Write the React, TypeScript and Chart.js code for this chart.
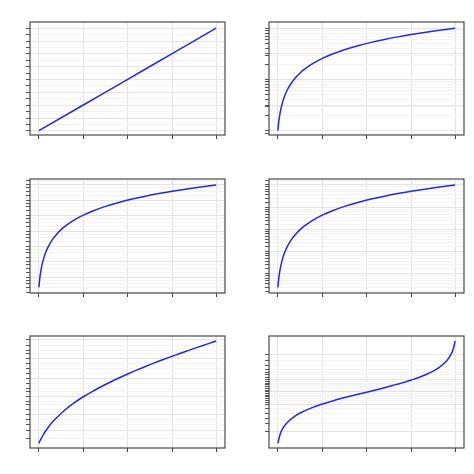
import React, { useEffect, useRef } from "react";
import { Chart, registerables } from "chart.js";
Chart.register(...registerables);

// ---- shared x axis ----
const xTickValues = [0, 100, 200, 300, 400];

// ---- panel 1 (linear) ----
const p1X = [0, 100, 200, 300, 399];
const p1Y = [0.002, 0.252, 0.502, 0.752, 1.0];
const p1Majors = [0, 0.125, 0.25, 0.375, 0.5, 0.625, 0.75, 0.875, 1.0];
const p1Minors = [0.0625, 0.1875, 0.3125, 0.4375, 0.5625, 0.6875, 0.8125, 0.9375];

// ---- panels 2-4 (logarithmic) ----
const logX = [0, 2, 5, 10, 15, 20, 30, 40, 50, 60, 80, 100, 120, 150, 180, 210, 240, 270, 300, 330, 360, 399];
const logY = [0.01, 0.015, 0.0224, 0.0348, 0.0472, 0.0596, 0.0844, 0.1092, 0.1341, 0.1589, 0.2085, 0.2581, 0.3077, 0.3822, 0.4566, 0.5311, 0.6055, 0.6799, 0.7544, 0.8288, 0.9032, 1.0];

const p2Majors = [0.01, 0.0316, 0.1, 0.316, 1];
const p2Minors = [0.009, 0.02, 0.03, 0.04, 0.05, 0.06, 0.07, 0.08, 0.09, 0.2, 0.3, 0.4, 0.5, 0.6, 0.7, 0.8, 0.9];

const p3Majors = [0.0078125, 0.015625, 0.03125, 0.0625, 0.125, 0.25, 0.5, 1];
const p3Minors = [0.0098, 0.0117, 0.0137, 0.0195, 0.0234, 0.0273, 0.0391, 0.0469, 0.0547, 0.0781, 0.0938, 0.1094, 0.1563, 0.1875, 0.2188, 0.3125, 0.375, 0.4375, 0.625, 0.75, 0.875, 1.25];

const p4Majors = [0.0183, 0.0498, 0.1353, 0.3679, 1];
const p4Minors = [0.00842, 0.0101, 0.0118, 0.0135, 0.0152, 0.0168, 0.0229, 0.0275, 0.0321, 0.0366, 0.0412, 0.0458, 0.0622, 0.0747, 0.0871, 0.0996, 0.112, 0.1245, 0.1692, 0.203, 0.2368, 0.2707, 0.3045, 0.3383, 0.4598, 0.5518, 0.6438, 0.7358, 0.8277, 0.9197, 1.25];

// ---- panel 5 (square-root-like) ----
const p5X = [0, 2, 5, 10, 15, 20, 30, 40, 60, 80, 100, 120, 140, 160, 180, 200, 220, 240, 260, 280, 300, 320, 340, 360, 380, 399];
const p5Y = [0, 0.02, 0.045, 0.085, 0.12, 0.15, 0.205, 0.25, 0.33, 0.397, 0.455, 0.506, 0.553, 0.597, 0.638, 0.677, 0.715, 0.751, 0.786, 0.819, 0.851, 0.883, 0.913, 0.943, 0.972, 1.0];
const p5Majors = [0.121, 0.277, 0.456, 0.635, 0.831, 1.01];
const p5Minors = [0.049, 0.179, 0.228, 0.326, 0.375, 0.407, 0.505, 0.537, 0.586, 0.684, 0.733, 0.782, 0.879, 0.912, 0.961];

// ---- panel 6 (logit-like) ----
const p6X = [0, 5, 10, 20, 40, 60, 80, 100, 120, 140, 160, 180, 200, 220, 240, 260, 280, 300, 320, 340, 360, 380, 390, 395, 399];
const p6Y = [0, 0.089, 0.138, 0.199, 0.271, 0.317, 0.354, 0.384, 0.41, 0.435, 0.457, 0.479, 0.5, 0.522, 0.544, 0.567, 0.591, 0.618, 0.648, 0.685, 0.732, 0.806, 0.871, 0.925, 1.0];
const p6Majors = [0.12, 0.375, 0.505, 0.62, 0.87];
const p6Minors = [0.195, 0.244, 0.293, 0.342, 0.4, 0.423, 0.44, 0.456, 0.472, 0.489, 0.521, 0.537, 0.554, 0.57, 0.586, 0.603, 0.642, 0.668, 0.69, 0.723, 0.759, 0.805];

type Spec = {
  left: number; top: number; width: number; height: number;
  type: "linear" | "logarithmic";
  ymin: number; ymax: number;
  xs: number[]; ys: number[];
  majors: number[]; minors: number[];
};

const specs: Spec[] = [
  { left: 30, top: 22, width: 195, height: 113, type: "linear", ymin: -0.04, ymax: 1.06, xs: p1X, ys: p1Y, majors: p1Majors, minors: p1Minors },
  { left: 269, top: 22, width: 195, height: 113, type: "logarithmic", ymin: 0.00824, ymax: 1.327, xs: logX, ys: logY, majors: p2Majors, minors: p2Minors },
  { left: 30, top: 179, width: 195, height: 114, type: "logarithmic", ymin: 0.00774, ymax: 1.31, xs: logX, ys: logY, majors: p3Majors, minors: p3Minors },
  { left: 269, top: 179, width: 195, height: 114, type: "logarithmic", ymin: 0.00774, ymax: 1.31, xs: logX, ys: logY, majors: p4Majors, minors: p4Minors },
  { left: 30, top: 336, width: 195, height: 112, type: "linear", ymin: -0.046, ymax: 1.049, xs: p5X, ys: p5Y, majors: p5Majors, minors: p5Minors },
  { left: 269, top: 336, width: 195, height: 112, type: "linear", ymin: -0.046, ymax: 1.049, xs: p6X, ys: p6Y, majors: p6Majors, minors: p6Minors },
];

const framePlugin = {
  id: "frame",
  afterDraw(chart: any) {
    const { ctx, chartArea: a } = chart;
    ctx.save();
    ctx.strokeStyle = "#4a4a4a";
    ctx.lineWidth = 1.2;
    ctx.strokeRect(a.left, a.top, a.right - a.left, a.bottom - a.top);
    ctx.restore();
  },
};

function Panel({ spec }: { spec: Spec }) {
  const ref = useRef<HTMLCanvasElement>(null);
  const W = spec.width + 14;
  const H = spec.height + 14;
  useEffect(() => {
    if (!ref.current) return;
    const ticks = [
      ...spec.majors.map((v) => ({ value: v, major: true })),
      ...spec.minors.map((v) => ({ value: v, major: false })),
    ]
      .filter((t) => t.value >= spec.ymin && t.value <= spec.ymax)
      .sort((a, b) => a.value - b.value);
    const chart = new Chart(ref.current, {
      type: "line",
      data: {
        datasets: [
          {
            data: spec.xs.map((x, i) => ({ x, y: spec.ys[i] })),
            borderColor: "rgb(40,40,215)",
            borderWidth: 1.5,
            pointRadius: 0,
            fill: false,
            cubicInterpolationMode: "monotone",
          },
        ],
      },
      options: {
        animation: false,
        responsive: false,
        layout: { padding: { left: 6, top: 4, right: 4, bottom: 6 } },
        plugins: { legend: { display: false }, tooltip: { enabled: false } },
        scales: {
          x: {
            type: "linear",
            min: -20,
            max: 419,
            afterBuildTicks: (s: any) => {
              s.ticks = xTickValues.map((v) => ({ value: v }));
            },
            ticks: { display: false, autoSkip: false },
            grid: { color: "#e2e2e2", tickColor: "#444444", tickLength: 4, lineWidth: 1 },
            border: { display: false },
          },
          y: {
            type: spec.type,
            min: spec.ymin,
            max: spec.ymax,
            afterBuildTicks: (s: any) => {
              s.ticks = ticks.map((t) => ({ ...t }));
            },
            ticks: { display: false, autoSkip: false },
            grid: {
              color: (c: any) => (c.tick && c.tick.major ? "#e4e4e4" : "#f3f3f3"),
              tickColor: "#555555",
              tickLength: 4,
              lineWidth: 1,
            },
            border: { display: false },
          },
        },
      } as any,
      plugins: [framePlugin],
    });
    return () => chart.destroy();
  }, []);
  return (
    <canvas
      ref={ref}
      width={W}
      height={H}
      style={{ position: "absolute", left: spec.left - 10, top: spec.top - 4, width: W, height: H }}
    />
  );
}

export default function App() {
  return (
    <div style={{ position: "absolute", left: 0, top: 0, width: 474, height: 474, background: "#ffffff" }}>
      {specs.map((s, i) => (
        <Panel key={i} spec={s} />
      ))}
    </div>
  );
}
